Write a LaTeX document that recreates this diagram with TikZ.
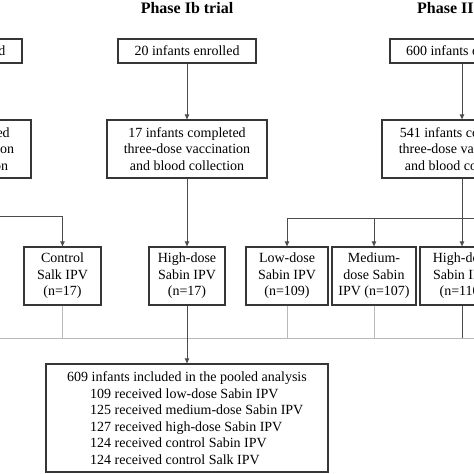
\documentclass[tikz,border=0pt]{standalone}
\usepackage{fontspec}
\setmainfont{Liberation Serif}
\usetikzlibrary{arrows.meta}
\definecolor{boxline}{HTML}{363636}
\definecolor{flowline}{HTML}{4C4C4C}
\definecolor{paleline}{HTML}{B8B8B8}

\begin{document}
\begin{tikzpicture}[x=1pt, y=-1pt,
  box/.style={draw=boxline, line width=1.3pt, align=center, inner sep=0pt,
    text=black, font=\fontsize{14pt}{16.5pt}\selectfont},
  flow/.style={draw=flowline, line width=0.9pt, -{Triangle[length=5pt,width=4.5pt]}},
  plain/.style={draw=flowline, line width=0.9pt},
  pale/.style={draw=paleline, line width=0.9pt},
  title/.style={font=\fontsize{16pt}{18pt}\selectfont\bfseries, anchor=base}]

\useasboundingbox (0,0) rectangle (474,474);
\clip (0,0) rectangle (474,474);

% titles
\node[title] (tib) at (187,13.5) {Phase Ib trial};
\node[title] (tii) at (462,13.5) {Phase II trial};

% enrolled
\node[box, minimum width=138pt, minimum height=24pt] (enria) at (-47,51) {\phantom{00} infants enrolled};
\node[box, minimum width=138pt, minimum height=24pt] (enrib) at (187,51) {20 infants enrolled};
\node[box, minimum width=144pt, minimum height=24pt] (enrii) at (462,51) {600 infants enrolled};

% completed
\node[box, minimum width=160pt, minimum height=58pt] (compia) at (-49,149)
  {\phantom{00} infants completed\\three-dose vaccination\\and blood collection};
\node[box, minimum width=160pt, minimum height=58pt] (compib) at (187,149)
  {17 infants completed\\three-dose vaccination\\and blood collection};
\node[box, minimum width=160pt, minimum height=58pt] (compii) at (462,149)
  {541 infants completed\\three-dose vaccination\\and blood collection};

% groups
\node[box, minimum width=77pt, minimum height=58pt] (salk) at (62.5,276) {Control\\Salk IPV\\(n=17)};
\node[box, minimum width=76pt, minimum height=58pt] (highib) at (187,276) {High-dose\\Sabin IPV\\(n=17)};
\node[box, minimum width=82pt, minimum height=58pt] (lowii) at (287,276) {Low-dose\\Sabin IPV\\(n=109)};
\node[box, minimum width=84pt, minimum height=58pt] (medii) at (374,276) {Medium-\\dose Sabin\\IPV (n=107)};
\node[box, minimum width=84pt, minimum height=58pt] (highii) at (462,276) {High-dose\\Sabin IPV\\(n=110)};

% pooled
\node[box, minimum width=282pt, minimum height=108pt, align=left] (pooled) at (187,418)
  {609 infants included in the pooled analysis\\
   \hspace*{23pt}109 received low-dose Sabin IPV\\
   \hspace*{23pt}125 received medium-dose Sabin IPV\\
   \hspace*{23pt}127 received high-dose Sabin IPV\\
   \hspace*{23pt}124 received control Sabin IPV\\
   \hspace*{23pt}124 received control Salk IPV};

\coordinate (splitia) at (-49,216);
\coordinate (splitii) at (462,218);
\coordinate (splitiir) at (500,218);
\coordinate (poolw) at (0,338);
\coordinate (poole) at (474,338);

% pale joins
\draw[pale] (poolw) -- (poole);
\draw[pale] (salk) -- (salk |- poolw);
\draw[pale] (lowii) -- (lowii |- poolw);
\draw[pale] (medii) -- (medii |- poolw);

% arrows
\draw[flow] (enrib) -- (compib);
\draw[flow] (enrii) -- (compii);
\draw[flow] (compib) -- (highib);
\draw[plain] (compia) -- (splitia);
\draw[flow] (splitia) -| (salk);
\draw[flow] (compii) -- (highii);
\draw[flow] (splitii) -| (lowii);
\draw[flow] (splitii) -| (medii);
\draw[plain] (splitii) -- (splitiir);
\draw[plain] (highii) -- (highii |- poolw);
\draw[flow] (highib) -- (pooled);

\end{tikzpicture}
\end{document}
